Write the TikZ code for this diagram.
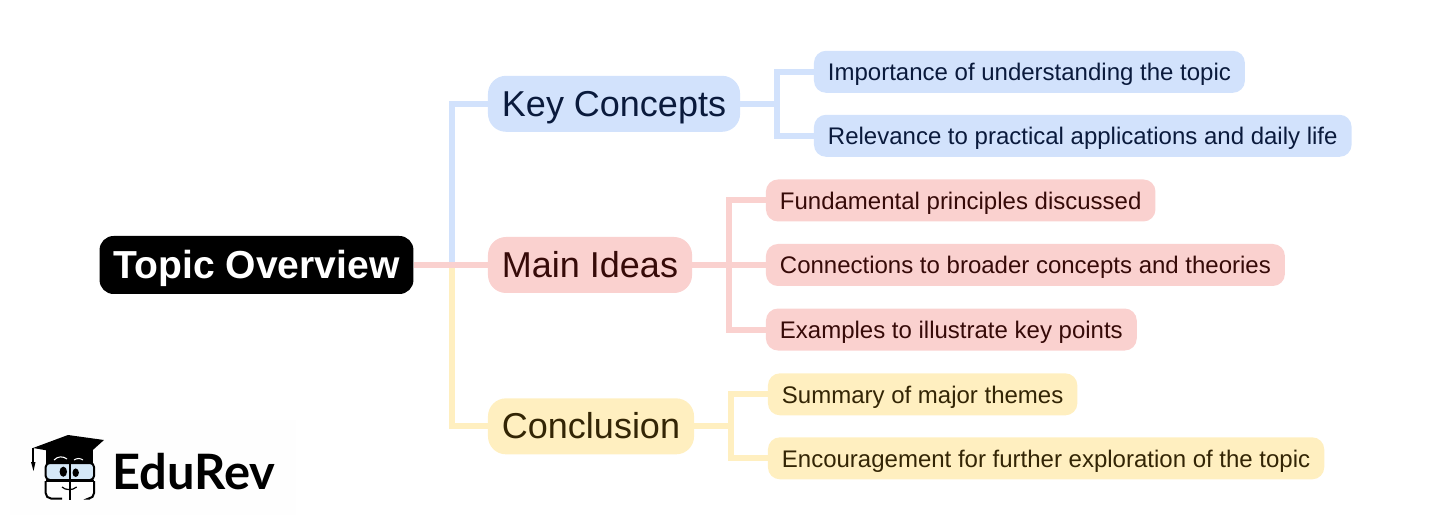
\documentclass[tikz,border=0pt]{standalone}
\usepackage{fontspec}
\setmainfont{Liberation Sans}
\newfontfamily\logofont{Lato}
\usetikzlibrary{positioning}
\definecolor{blueFill}{HTML}{D2E2FC}
\definecolor{redFill}{HTML}{FAD1CF}
\definecolor{yellowFill}{HTML}{FFEFC0}
\definecolor{blueText}{HTML}{0A1A3C}
\definecolor{redText}{HTML}{360A08}
\definecolor{yellowText}{HTML}{332505}
\definecolor{glassBlue}{HTML}{D5E8F7}
\definecolor{logoBack}{HTML}{FEFEFE}
\tikzstyle{root} = [rectangle, rounded corners=10.5pt, minimum height=43.5pt, inner xsep=10.5pt, text height=26.4pt, text depth=6.3pt, fill=black, text=white, font=\fontsize{29.3pt}{34pt}\selectfont\bfseries]
\tikzstyle{branch} = [rectangle, rounded corners=13.5pt, minimum height=42pt, inner xsep=10.5pt, text height=24.3pt, text depth=5.8pt, font=\fontsize{27pt}{32pt}\selectfont]
\tikzstyle{leaf} = [rectangle, rounded corners=9pt, minimum height=31.5pt, inner xsep=10.5pt, text height=17pt, text depth=3.9pt, font=\fontsize{18pt}{22pt}\selectfont]
\tikzstyle{link} = [line width=4.5pt]
\begin{document}
\begin{tikzpicture}[x=0.75pt, y=-0.75pt]
\useasboundingbox (0,0) rectangle (1451,530);
\node (root) [root] at (256.5,265) {Topic Overview};
\node (main) [branch, fill=redFill, text=redText, right=55.5pt of root] {Main Ideas};
\node (key) [branch, fill=blueFill, text=blueText, above=78.5pt of main.north west, anchor=south west] {Key Concepts};
\node (concl) [branch, fill=yellowFill, text=yellowText, below=78.6pt of main.south west, anchor=north west] {Conclusion};
\coordinate [right=28.5pt of root.east] (fork);
\coordinate [right=27.75pt of key.east] (forkKey);
\coordinate [right=27.75pt of main.east] (forkMain);
\coordinate [right=27.75pt of concl.east] (forkConcl);
% leaves
\node (imp) [leaf, fill=blueFill, text=blueText, right=55pt of key.east, yshift=24pt] {Importance of understanding the topic};
\node (rel) [leaf, fill=blueFill, text=blueText, right=55pt of key.east, yshift=-24pt] {Relevance to practical applications and daily life};
\node (con) [leaf, fill=redFill, text=redText, right=55pt of main.east] {Connections to broader concepts and theories};
\node (fun) [leaf, fill=redFill, text=redText, above=16.5pt of con.north west, anchor=south west] {Fundamental principles discussed};
\node (exa) [leaf, fill=redFill, text=redText, below=16.5pt of con.south west, anchor=north west] {Examples to illustrate key points};
\node (sum) [leaf, fill=yellowFill, text=yellowText, right=55pt of concl.east, yshift=24pt] {Summary of major themes};
\node (enc) [leaf, fill=yellowFill, text=yellowText, right=55pt of concl.east, yshift=-24pt] {Encouragement for further exploration of the topic};
% connectors
\draw [link, blueFill] (fork) |- (key);
\draw [link, yellowFill] (fork) |- (concl);
\draw [link, redFill] (root) -- (main);
\draw [link, blueFill] (key) -- (forkKey);
\draw [link, blueFill] (forkKey) |- (imp);
\draw [link, blueFill] (forkKey) |- (rel);
\draw [link, redFill] (forkMain) |- (fun);
\draw [link, redFill] (forkMain) |- (exa);
\draw [link, redFill] (main) -- (con);
\draw [link, yellowFill] (concl) -- (forkConcl);
\draw [link, yellowFill] (forkConcl) |- (sum);
\draw [link, yellowFill] (forkConcl) |- (enc);
% logo
\fill [logoBack] (10,420) rectangle (296,515);
\node (logotext) [anchor=base west, inner sep=0pt, font=\logofont\fontsize{36.6pt}{40pt}\selectfont\bfseries] at (112,489) {EduRev};
\fill [black] (46,447) rectangle (93,464);
\fill [black] (33,448) -- (68,435) -- (104,440) -- (85,457) -- cycle;
\draw [white, line width=0.8pt] (54,460) .. controls (58,456) and (63,456) .. (67,459);
\draw [white, line width=0.8pt] (74,460) .. controls (77,458) and (80,458) .. (83,460);
\draw [line width=0.9pt] (33,448) -- (33,464);
\fill [black] (31,462) -- (35.5,462) -- (33.5,471) -- cycle;
\draw [line width=1.5pt, fill=glassBlue, rounded corners=3pt] (45.7,463) rectangle (94,480);
\draw [line width=1.5pt, rounded corners=4pt] (45.7,481) -- (45.7,498.5) -- (62,498.5);
\draw [line width=1.5pt, rounded corners=4pt] (94,481) -- (94,498.5) -- (90,498.5);
\draw [line width=1.5pt] (45.7,481) -- (94,481);
\draw [line width=1.2pt] (70,463) -- (70,500);
\fill [black] (63.3,471.7) ellipse (2.8pt and 3.8pt);
\fill [black] (75.7,472.7) ellipse (2.4pt and 3.2pt);
\draw [line width=0.9pt] (62,487) .. controls (65,490) and (72,491) .. (76.7,487);
\end{tikzpicture}
\end{document}
